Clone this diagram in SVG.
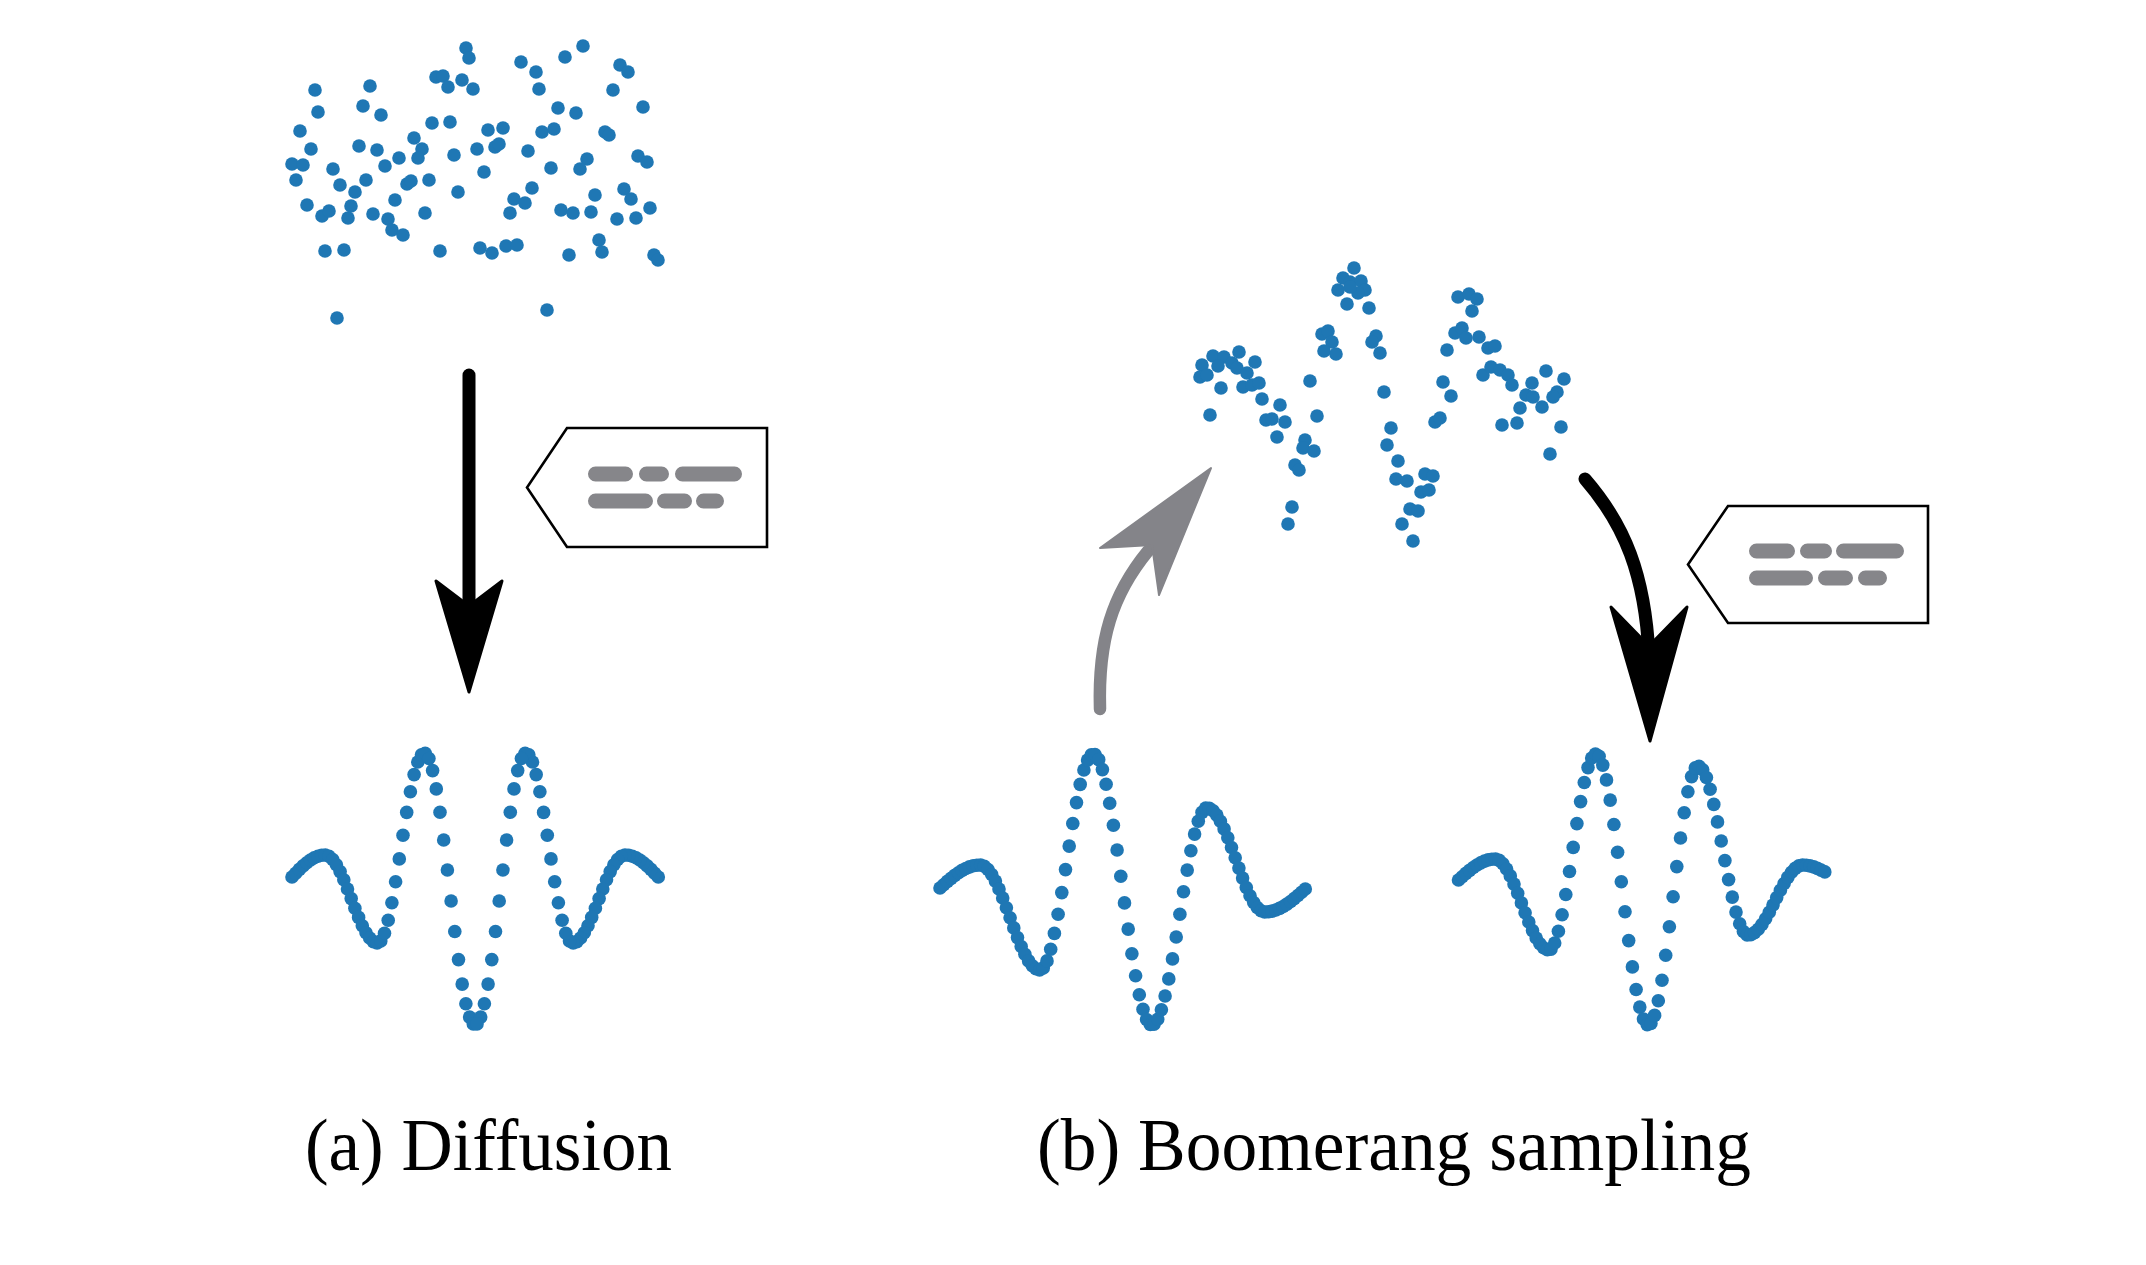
<svg xmlns="http://www.w3.org/2000/svg" xmlns:xlink="http://www.w3.org/1999/xlink" width="2146" height="1265" viewBox="0 0 2146 1265">
<style>
.dots{fill:#1f77b4}
.pill{stroke:#86868a;stroke-width:15;stroke-linecap:round;fill:none}
.tag{fill:#fff;stroke:#000;stroke-width:2.6}
.cap{font-family:"Liberation Serif","Times New Roman",serif;font-size:73px;fill:#000}
.shaft-k{fill:none;stroke:#000;stroke-width:13;stroke-linecap:round}
.head-k{fill:#000;stroke:#000;stroke-width:3;stroke-linejoin:round}
.shaft-g{fill:none;stroke:#848489;stroke-width:12.5;stroke-linecap:round}
.head-g{fill:#848489;stroke:#848489;stroke-width:2;stroke-linejoin:round}
</style>
<rect width="2146" height="1265" fill="#fff"/>

<g id="noise-a" class="dots">
<circle cx="466" cy="48" r="6.8"/><circle cx="469" cy="58" r="6.8"/><circle cx="521" cy="62" r="6.8"/><circle cx="565" cy="57" r="6.8"/><circle cx="583" cy="46" r="6.8"/><circle cx="620" cy="65" r="6.8"/><circle cx="628" cy="72" r="6.8"/><circle cx="536" cy="72" r="6.8"/><circle cx="539" cy="89" r="6.8"/><circle cx="613" cy="90" r="6.8"/><circle cx="643" cy="107" r="6.8"/><circle cx="315" cy="90" r="6.8"/><circle cx="370" cy="86" r="6.8"/><circle cx="436" cy="77" r="6.8"/><circle cx="443" cy="76" r="6.8"/><circle cx="448" cy="87" r="6.8"/><circle cx="462" cy="80" r="6.8"/><circle cx="473" cy="89" r="6.8"/><circle cx="318" cy="112" r="6.8"/><circle cx="363" cy="106" r="6.8"/><circle cx="381" cy="115" r="6.8"/><circle cx="558" cy="108" r="6.8"/><circle cx="576" cy="113" r="6.8"/><circle cx="300" cy="131" r="6.8"/><circle cx="432" cy="123" r="6.8"/><circle cx="450" cy="122" r="6.8"/><circle cx="488" cy="130" r="6.8"/><circle cx="503" cy="128" r="6.8"/><circle cx="542" cy="132" r="6.8"/><circle cx="554" cy="129" r="6.8"/><circle cx="605" cy="132" r="6.8"/><circle cx="609" cy="135" r="6.8"/><circle cx="311" cy="149" r="6.8"/><circle cx="359" cy="146" r="6.8"/><circle cx="377" cy="150" r="6.8"/><circle cx="414" cy="138" r="6.8"/><circle cx="422" cy="149" r="6.8"/><circle cx="418" cy="158" r="6.8"/><circle cx="399" cy="158" r="6.8"/><circle cx="385" cy="166" r="6.8"/><circle cx="454" cy="155" r="6.8"/><circle cx="477" cy="149" r="6.8"/><circle cx="495" cy="147" r="6.8"/><circle cx="499" cy="144" r="6.8"/><circle cx="528" cy="151" r="6.8"/><circle cx="551" cy="168" r="6.8"/><circle cx="587" cy="159" r="6.8"/><circle cx="580" cy="169" r="6.8"/><circle cx="638" cy="156" r="6.8"/><circle cx="647" cy="162" r="6.8"/><circle cx="292" cy="164" r="6.8"/><circle cx="303" cy="165" r="6.8"/><circle cx="296" cy="180" r="6.8"/><circle cx="333" cy="169" r="6.8"/><circle cx="340" cy="185" r="6.8"/><circle cx="355" cy="192" r="6.8"/><circle cx="366" cy="180" r="6.8"/><circle cx="407" cy="184" r="6.8"/><circle cx="411" cy="181" r="6.8"/><circle cx="429" cy="180" r="6.8"/><circle cx="458" cy="192" r="6.8"/><circle cx="484" cy="172" r="6.8"/><circle cx="514" cy="199" r="6.8"/><circle cx="525" cy="203" r="6.8"/><circle cx="532" cy="188" r="6.8"/><circle cx="595" cy="195" r="6.8"/><circle cx="624" cy="189" r="6.8"/><circle cx="631" cy="199" r="6.8"/><circle cx="307" cy="205" r="6.8"/><circle cx="322" cy="216" r="6.8"/><circle cx="329" cy="211" r="6.8"/><circle cx="348" cy="218" r="6.8"/><circle cx="351" cy="206" r="6.8"/><circle cx="373" cy="214" r="6.8"/><circle cx="388" cy="219" r="6.8"/><circle cx="392" cy="230" r="6.8"/><circle cx="403" cy="235" r="6.8"/><circle cx="395" cy="200" r="6.8"/><circle cx="425" cy="213" r="6.8"/><circle cx="510" cy="213" r="6.8"/><circle cx="561" cy="210" r="6.8"/><circle cx="573" cy="213" r="6.8"/><circle cx="591" cy="212" r="6.8"/><circle cx="617" cy="219" r="6.8"/><circle cx="636" cy="218" r="6.8"/><circle cx="650" cy="208" r="6.8"/><circle cx="599" cy="240" r="6.8"/><circle cx="602" cy="252" r="6.8"/><circle cx="325" cy="251" r="6.8"/><circle cx="344" cy="250" r="6.8"/><circle cx="440" cy="251" r="6.8"/><circle cx="480" cy="248" r="6.8"/><circle cx="492" cy="253" r="6.8"/><circle cx="506" cy="246" r="6.8"/><circle cx="517" cy="245" r="6.8"/><circle cx="569" cy="255" r="6.8"/><circle cx="654" cy="255" r="6.8"/><circle cx="658" cy="260" r="6.8"/><circle cx="337" cy="318" r="6.8"/><circle cx="547" cy="310" r="6.8"/>
</g>

<g id="wave-a" class="dots">
<g id="wave-a-left">
<circle cx="292.0" cy="877.0" r="6.8"/><circle cx="295.7" cy="873.2" r="6.8"/><circle cx="299.4" cy="869.4" r="6.8"/><circle cx="303.1" cy="865.9" r="6.8"/><circle cx="306.8" cy="862.8" r="6.8"/><circle cx="310.5" cy="860.0" r="6.8"/><circle cx="314.2" cy="857.8" r="6.8"/><circle cx="317.9" cy="856.3" r="6.8"/><circle cx="321.6" cy="855.3" r="6.8"/><circle cx="325.3" cy="855.0" r="6.8"/><circle cx="329.0" cy="856.2" r="6.8"/><circle cx="332.7" cy="859.5" r="6.8"/><circle cx="336.4" cy="864.8" r="6.8"/><circle cx="340.1" cy="871.6" r="6.8"/><circle cx="343.8" cy="879.8" r="6.8"/><circle cx="347.5" cy="889.0" r="6.8"/><circle cx="351.2" cy="898.6" r="6.8"/><circle cx="354.9" cy="908.2" r="6.8"/><circle cx="358.6" cy="917.4" r="6.8"/><circle cx="362.3" cy="925.7" r="6.8"/><circle cx="366.0" cy="932.7" r="6.8"/><circle cx="369.7" cy="938.0" r="6.8"/><circle cx="373.4" cy="941.6" r="6.8"/><circle cx="377.1" cy="943.0" r="6.8"/><circle cx="380.8" cy="940.9" r="6.8"/><circle cx="384.5" cy="933.2" r="6.8"/><circle cx="388.2" cy="920.2" r="6.8"/><circle cx="391.9" cy="902.7" r="6.8"/><circle cx="395.6" cy="881.8" r="6.8"/><circle cx="399.3" cy="858.9" r="6.8"/><circle cx="403.0" cy="835.2" r="6.8"/><circle cx="406.7" cy="812.4" r="6.8"/><circle cx="410.4" cy="791.8" r="6.8"/><circle cx="414.1" cy="774.6" r="6.8"/><circle cx="417.8" cy="762.0" r="6.8"/><circle cx="421.5" cy="754.7" r="6.8"/><circle cx="425.2" cy="753.2" r="6.8"/><circle cx="428.9" cy="758.5" r="6.8"/><circle cx="432.6" cy="770.6" r="6.8"/><circle cx="436.3" cy="788.9" r="6.8"/><circle cx="440.0" cy="812.3" r="6.8"/><circle cx="443.7" cy="840.0" r="6.8"/><circle cx="447.4" cy="870.0" r="6.8"/><circle cx="451.1" cy="901.0" r="6.8"/><circle cx="454.8" cy="931.5" r="6.8"/><circle cx="458.5" cy="959.6" r="6.8"/><circle cx="462.2" cy="984.1" r="6.8"/><circle cx="465.9" cy="1003.8" r="6.8"/><circle cx="469.6" cy="1017.1" r="6.8"/><circle cx="473.3" cy="1023.9" r="6.8"/>
</g>
<use xlink:href="#wave-a-left" href="#wave-a-left" transform="matrix(-1 0 0 1 950.3 0)"/>
</g>

<g id="tag-a">
<polygon class="tag" points="567,428 767,428 767,547 567,547 527,487.5"/>
<path class="pill" d="M595.5 474H625.5M646.5 474H661.5M682.5 474H734.5M595.5 501H645.5M664.5 501H684.5M703.5 501H716.5"/>
</g>

<g id="cloud-b" class="dots">
<circle cx="1354" cy="268" r="6.8"/><circle cx="1343" cy="278" r="6.8"/><circle cx="1350" cy="282" r="6.8"/><circle cx="1361" cy="281" r="6.8"/><circle cx="1365" cy="290" r="6.8"/><circle cx="1358" cy="293" r="6.8"/><circle cx="1338" cy="290" r="6.8"/><circle cx="1350" cy="287" r="6.8"/><circle cx="1347" cy="304" r="6.8"/><circle cx="1369" cy="308" r="6.8"/><circle cx="1322" cy="334" r="6.8"/><circle cx="1328" cy="331" r="6.8"/><circle cx="1332" cy="342" r="6.8"/><circle cx="1324" cy="351" r="6.8"/><circle cx="1336" cy="354" r="6.8"/><circle cx="1376" cy="336" r="6.8"/><circle cx="1372" cy="342" r="6.8"/><circle cx="1380" cy="353" r="6.8"/><circle cx="1202" cy="365" r="6.8"/><circle cx="1213" cy="356" r="6.8"/><circle cx="1224" cy="357" r="6.8"/><circle cx="1239" cy="352" r="6.8"/><circle cx="1255" cy="362" r="6.8"/><circle cx="1200" cy="377" r="6.8"/><circle cx="1207" cy="375" r="6.8"/><circle cx="1218" cy="366" r="6.8"/><circle cx="1232" cy="363" r="6.8"/><circle cx="1237" cy="368" r="6.8"/><circle cx="1247" cy="373" r="6.8"/><circle cx="1243" cy="387" r="6.8"/><circle cx="1252" cy="385" r="6.8"/><circle cx="1259" cy="383" r="6.8"/><circle cx="1221" cy="388" r="6.8"/><circle cx="1262" cy="399" r="6.8"/><circle cx="1280" cy="405" r="6.8"/><circle cx="1266" cy="420" r="6.8"/><circle cx="1272" cy="419" r="6.8"/><circle cx="1285" cy="422" r="6.8"/><circle cx="1277" cy="437" r="6.8"/><circle cx="1210" cy="415" r="6.8"/><circle cx="1310" cy="381" r="6.8"/><circle cx="1317" cy="416" r="6.8"/><circle cx="1305" cy="440" r="6.8"/><circle cx="1303" cy="448" r="6.8"/><circle cx="1314" cy="451" r="6.8"/><circle cx="1295" cy="465" r="6.8"/><circle cx="1299" cy="470" r="6.8"/><circle cx="1292" cy="507" r="6.8"/><circle cx="1288" cy="524" r="6.8"/><circle cx="1384" cy="392" r="6.8"/><circle cx="1391" cy="428" r="6.8"/><circle cx="1387" cy="445" r="6.8"/><circle cx="1398" cy="461" r="6.8"/><circle cx="1396" cy="479" r="6.8"/><circle cx="1407" cy="481" r="6.8"/><circle cx="1425" cy="474" r="6.8"/><circle cx="1433" cy="476" r="6.8"/><circle cx="1421" cy="492" r="6.8"/><circle cx="1429" cy="490" r="6.8"/><circle cx="1410" cy="509" r="6.8"/><circle cx="1418" cy="511" r="6.8"/><circle cx="1402" cy="524" r="6.8"/><circle cx="1413" cy="541" r="6.8"/><circle cx="1458" cy="297" r="6.8"/><circle cx="1469" cy="294" r="6.8"/><circle cx="1477" cy="299" r="6.8"/><circle cx="1472" cy="311" r="6.8"/><circle cx="1455" cy="333" r="6.8"/><circle cx="1462" cy="328" r="6.8"/><circle cx="1466" cy="338" r="6.8"/><circle cx="1479" cy="337" r="6.8"/><circle cx="1488" cy="348" r="6.8"/><circle cx="1495" cy="346" r="6.8"/><circle cx="1447" cy="350" r="6.8"/><circle cx="1443" cy="382" r="6.8"/><circle cx="1451" cy="396" r="6.8"/><circle cx="1435" cy="422" r="6.8"/><circle cx="1440" cy="418" r="6.8"/><circle cx="1483" cy="375" r="6.8"/><circle cx="1491" cy="367" r="6.8"/><circle cx="1500" cy="370" r="6.8"/><circle cx="1508" cy="375" r="6.8"/><circle cx="1512" cy="385" r="6.8"/><circle cx="1532" cy="383" r="6.8"/><circle cx="1526" cy="395" r="6.8"/><circle cx="1533" cy="397" r="6.8"/><circle cx="1542" cy="407" r="6.8"/><circle cx="1520" cy="408" r="6.8"/><circle cx="1546" cy="371" r="6.8"/><circle cx="1564" cy="379" r="6.8"/><circle cx="1557" cy="392" r="6.8"/><circle cx="1553" cy="397" r="6.8"/><circle cx="1502" cy="425" r="6.8"/><circle cx="1517" cy="423" r="6.8"/><circle cx="1561" cy="427" r="6.8"/><circle cx="1550" cy="454" r="6.8"/>
</g>

<g id="wave-b-left" class="dots">
<circle cx="940.0" cy="888.0" r="6.8"/><circle cx="943.7" cy="884.7" r="6.8"/><circle cx="947.4" cy="881.4" r="6.8"/><circle cx="951.1" cy="878.4" r="6.8"/><circle cx="954.8" cy="875.4" r="6.8"/><circle cx="958.5" cy="872.8" r="6.8"/><circle cx="962.1" cy="870.4" r="6.8"/><circle cx="965.8" cy="868.5" r="6.8"/><circle cx="969.5" cy="866.9" r="6.8"/><circle cx="973.2" cy="865.8" r="6.8"/><circle cx="976.9" cy="865.2" r="6.8"/><circle cx="980.6" cy="865.0" r="6.8"/><circle cx="984.3" cy="866.3" r="6.8"/><circle cx="988.0" cy="869.5" r="6.8"/><circle cx="991.7" cy="874.5" r="6.8"/><circle cx="995.4" cy="881.1" r="6.8"/><circle cx="999.0" cy="889.0" r="6.8"/><circle cx="1002.7" cy="898.0" r="6.8"/><circle cx="1006.4" cy="907.7" r="6.8"/><circle cx="1010.1" cy="917.8" r="6.8"/><circle cx="1013.8" cy="927.9" r="6.8"/><circle cx="1017.5" cy="937.6" r="6.8"/><circle cx="1021.2" cy="946.5" r="6.8"/><circle cx="1024.9" cy="954.3" r="6.8"/><circle cx="1028.6" cy="960.9" r="6.8"/><circle cx="1032.3" cy="965.7" r="6.8"/><circle cx="1035.9" cy="968.8" r="6.8"/><circle cx="1039.6" cy="970.0" r="6.8"/><circle cx="1043.3" cy="967.9" r="6.8"/><circle cx="1047.0" cy="960.9" r="6.8"/><circle cx="1050.7" cy="949.2" r="6.8"/><circle cx="1054.4" cy="933.4" r="6.8"/><circle cx="1058.1" cy="914.3" r="6.8"/><circle cx="1061.8" cy="892.6" r="6.8"/><circle cx="1065.5" cy="869.6" r="6.8"/><circle cx="1069.2" cy="846.1" r="6.8"/><circle cx="1072.8" cy="823.5" r="6.8"/><circle cx="1076.5" cy="802.6" r="6.8"/><circle cx="1080.2" cy="784.4" r="6.8"/><circle cx="1083.9" cy="770.0" r="6.8"/><circle cx="1087.6" cy="760.1" r="6.8"/><circle cx="1091.3" cy="754.8" r="6.8"/><circle cx="1095.0" cy="754.5" r="6.8"/><circle cx="1098.7" cy="759.6" r="6.8"/><circle cx="1102.4" cy="769.6" r="6.8"/><circle cx="1106.1" cy="784.3" r="6.8"/><circle cx="1109.7" cy="803.2" r="6.8"/><circle cx="1113.4" cy="825.3" r="6.8"/><circle cx="1117.1" cy="850.0" r="6.8"/><circle cx="1120.8" cy="876.2" r="6.8"/><circle cx="1124.5" cy="902.9" r="6.8"/><circle cx="1128.2" cy="929.1" r="6.8"/><circle cx="1131.9" cy="953.7" r="6.8"/><circle cx="1135.6" cy="975.7" r="6.8"/><circle cx="1139.3" cy="994.7" r="6.8"/><circle cx="1143.0" cy="1009.3" r="6.8"/><circle cx="1146.6" cy="1019.5" r="6.8"/><circle cx="1150.3" cy="1024.5" r="6.8"/><circle cx="1154.0" cy="1024.3" r="6.8"/><circle cx="1157.7" cy="1019.3" r="6.8"/><circle cx="1161.4" cy="1009.7" r="6.8"/><circle cx="1165.1" cy="996.0" r="6.8"/><circle cx="1168.8" cy="978.9" r="6.8"/><circle cx="1172.5" cy="958.9" r="6.8"/><circle cx="1176.2" cy="937.0" r="6.8"/><circle cx="1179.9" cy="914.3" r="6.8"/><circle cx="1183.5" cy="891.7" r="6.8"/><circle cx="1187.2" cy="870.1" r="6.8"/><circle cx="1190.9" cy="850.7" r="6.8"/><circle cx="1194.6" cy="834.1" r="6.8"/><circle cx="1198.3" cy="821.2" r="6.8"/><circle cx="1202.0" cy="812.4" r="6.8"/><circle cx="1205.7" cy="808.1" r="6.8"/><circle cx="1209.4" cy="808.4" r="6.8"/><circle cx="1213.1" cy="810.8" r="6.8"/><circle cx="1216.8" cy="815.1" r="6.8"/><circle cx="1220.4" cy="821.2" r="6.8"/><circle cx="1224.1" cy="828.9" r="6.8"/><circle cx="1227.8" cy="837.7" r="6.8"/><circle cx="1231.5" cy="847.5" r="6.8"/><circle cx="1235.2" cy="857.7" r="6.8"/><circle cx="1238.9" cy="868.1" r="6.8"/><circle cx="1242.6" cy="878.1" r="6.8"/><circle cx="1246.3" cy="887.5" r="6.8"/><circle cx="1250.0" cy="895.7" r="6.8"/><circle cx="1253.7" cy="902.5" r="6.8"/><circle cx="1257.3" cy="907.5" r="6.8"/><circle cx="1261.0" cy="910.8" r="6.8"/><circle cx="1264.7" cy="912.0" r="6.8"/><circle cx="1268.4" cy="911.8" r="6.8"/><circle cx="1272.1" cy="911.1" r="6.8"/><circle cx="1275.8" cy="910.0" r="6.8"/><circle cx="1279.5" cy="908.4" r="6.8"/><circle cx="1283.2" cy="906.5" r="6.8"/><circle cx="1286.9" cy="904.1" r="6.8"/><circle cx="1290.6" cy="901.5" r="6.8"/><circle cx="1294.2" cy="898.6" r="6.8"/><circle cx="1297.9" cy="895.5" r="6.8"/><circle cx="1301.6" cy="892.3" r="6.8"/><circle cx="1305.3" cy="889.0" r="6.8"/>
</g>

<g id="wave-b-right" class="dots">
<circle cx="1458.5" cy="880.0" r="6.8"/><circle cx="1462.2" cy="876.7" r="6.8"/><circle cx="1465.9" cy="873.4" r="6.8"/><circle cx="1469.6" cy="870.4" r="6.8"/><circle cx="1473.3" cy="867.5" r="6.8"/><circle cx="1477.0" cy="865.0" r="6.8"/><circle cx="1480.7" cy="862.9" r="6.8"/><circle cx="1484.4" cy="861.1" r="6.8"/><circle cx="1488.1" cy="859.9" r="6.8"/><circle cx="1491.8" cy="859.2" r="6.8"/><circle cx="1495.5" cy="859.0" r="6.8"/><circle cx="1499.2" cy="860.4" r="6.8"/><circle cx="1502.9" cy="863.7" r="6.8"/><circle cx="1506.6" cy="869.0" r="6.8"/><circle cx="1510.3" cy="875.9" r="6.8"/><circle cx="1514.0" cy="884.1" r="6.8"/><circle cx="1517.7" cy="893.2" r="6.8"/><circle cx="1521.4" cy="902.9" r="6.8"/><circle cx="1525.1" cy="912.7" r="6.8"/><circle cx="1528.8" cy="922.0" r="6.8"/><circle cx="1532.5" cy="930.6" r="6.8"/><circle cx="1536.2" cy="938.0" r="6.8"/><circle cx="1539.9" cy="943.8" r="6.8"/><circle cx="1543.6" cy="947.8" r="6.8"/><circle cx="1547.3" cy="949.8" r="6.8"/><circle cx="1551.0" cy="949.1" r="6.8"/><circle cx="1554.7" cy="943.0" r="6.8"/><circle cx="1558.4" cy="931.3" r="6.8"/><circle cx="1562.1" cy="914.8" r="6.8"/><circle cx="1565.8" cy="894.5" r="6.8"/><circle cx="1569.5" cy="871.5" r="6.8"/><circle cx="1573.2" cy="847.4" r="6.8"/><circle cx="1576.9" cy="823.6" r="6.8"/><circle cx="1580.6" cy="801.6" r="6.8"/><circle cx="1584.3" cy="782.5" r="6.8"/><circle cx="1588.0" cy="767.6" r="6.8"/><circle cx="1591.7" cy="758.0" r="6.8"/><circle cx="1595.4" cy="754.0" r="6.8"/><circle cx="1599.1" cy="756.3" r="6.8"/><circle cx="1602.8" cy="765.1" r="6.8"/><circle cx="1606.5" cy="779.9" r="6.8"/><circle cx="1610.2" cy="800.1" r="6.8"/><circle cx="1613.9" cy="824.5" r="6.8"/><circle cx="1617.6" cy="852.3" r="6.8"/><circle cx="1621.3" cy="881.8" r="6.8"/><circle cx="1625.0" cy="911.7" r="6.8"/><circle cx="1628.7" cy="940.6" r="6.8"/><circle cx="1632.4" cy="966.9" r="6.8"/><circle cx="1636.1" cy="989.5" r="6.8"/><circle cx="1639.8" cy="1007.1" r="6.8"/><circle cx="1643.5" cy="1019.0" r="6.8"/><circle cx="1647.2" cy="1024.6" r="6.8"/><circle cx="1650.9" cy="1023.5" r="6.8"/><circle cx="1654.6" cy="1015.4" r="6.8"/><circle cx="1658.3" cy="1000.7" r="6.8"/><circle cx="1662.0" cy="980.3" r="6.8"/><circle cx="1665.7" cy="955.2" r="6.8"/><circle cx="1669.4" cy="926.8" r="6.8"/><circle cx="1673.1" cy="896.7" r="6.8"/><circle cx="1676.8" cy="866.6" r="6.8"/><circle cx="1680.5" cy="838.0" r="6.8"/><circle cx="1684.2" cy="812.7" r="6.8"/><circle cx="1687.9" cy="791.7" r="6.8"/><circle cx="1691.6" cy="776.6" r="6.8"/><circle cx="1695.3" cy="767.9" r="6.8"/><circle cx="1699.0" cy="766.2" r="6.8"/><circle cx="1702.7" cy="769.7" r="6.8"/><circle cx="1706.4" cy="777.5" r="6.8"/><circle cx="1710.1" cy="789.3" r="6.8"/><circle cx="1713.8" cy="804.4" r="6.8"/><circle cx="1717.5" cy="821.9" r="6.8"/><circle cx="1721.2" cy="841.0" r="6.8"/><circle cx="1724.9" cy="860.6" r="6.8"/><circle cx="1728.6" cy="879.6" r="6.8"/><circle cx="1732.3" cy="897.1" r="6.8"/><circle cx="1736.0" cy="912.1" r="6.8"/><circle cx="1739.7" cy="923.8" r="6.8"/><circle cx="1743.4" cy="931.5" r="6.8"/><circle cx="1747.1" cy="934.9" r="6.8"/><circle cx="1750.8" cy="934.6" r="6.8"/><circle cx="1754.5" cy="932.6" r="6.8"/><circle cx="1758.2" cy="929.2" r="6.8"/><circle cx="1761.9" cy="924.5" r="6.8"/><circle cx="1765.6" cy="918.8" r="6.8"/><circle cx="1769.3" cy="912.2" r="6.8"/><circle cx="1773.0" cy="905.0" r="6.8"/><circle cx="1776.7" cy="897.6" r="6.8"/><circle cx="1780.4" cy="890.3" r="6.8"/><circle cx="1784.1" cy="883.5" r="6.8"/><circle cx="1787.8" cy="877.4" r="6.8"/><circle cx="1791.5" cy="872.3" r="6.8"/><circle cx="1795.2" cy="868.4" r="6.8"/><circle cx="1798.9" cy="865.9" r="6.8"/><circle cx="1802.6" cy="865.0" r="6.8"/><circle cx="1806.3" cy="865.2" r="6.8"/><circle cx="1810.0" cy="865.9" r="6.8"/><circle cx="1813.7" cy="866.9" r="6.8"/><circle cx="1817.4" cy="868.4" r="6.8"/><circle cx="1821.1" cy="870.1" r="6.8"/><circle cx="1824.8" cy="871.9" r="6.8"/>
</g>

<g id="tag-b">
<polygon class="tag" points="1728,506 1928,506 1928,623 1728,623 1688,564.5"/>
<path class="pill" d="M1756.5 551H1787.5M1807.5 551H1824.5M1843.5 551H1896.5M1756.5 578H1805.5M1825.5 578H1845.5M1865.5 578H1879.5"/>
</g>

<g id="connectors">
<g id="arrow-diffusion">
<path class="shaft-k" d="M469 375V625"/>
<polygon class="head-k" points="469,692 502,581 469,606 436,581"/>
</g>
<g id="arrow-noising">
<path class="shaft-g" d="M1100 709C1098 640 1112 595 1148 551"/>
<polygon class="head-g" points="1211,468 1159,595 1152,545 1100,548"/>
</g>
<g id="arrow-denoising">
<path class="shaft-k" d="M1585 479C1625 525 1645 575 1649 655"/>
<polygon class="head-k" points="1650,741 1687,607 1649,646 1611,607"/>
</g>
</g>

<g id="captions">
<text class="cap" x="305" y="1170" textLength="367" lengthAdjust="spacingAndGlyphs">(a) Diffusion</text>
<text class="cap" x="1037" y="1170" textLength="714" lengthAdjust="spacingAndGlyphs">(b) Boomerang sampling</text>
</g>
</svg>
